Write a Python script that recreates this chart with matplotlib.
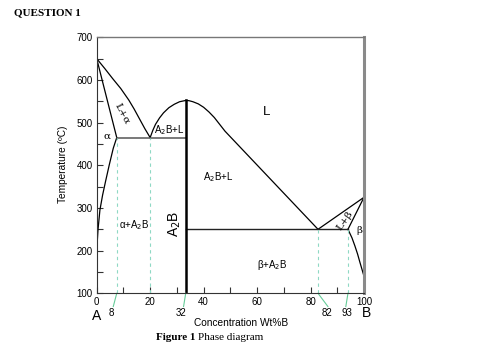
import matplotlib
matplotlib.use('Agg')
import matplotlib.pyplot as plt
import numpy as np

plt.rcParams['font.family'] = ['Liberation Sans', 'DejaVu Sans']

# phase boundaries (composition wt%B, temperature C)
liq_a_x = [0, 3, 6, 9, 12, 14, 16, 18, 20]
liq_a_t = [650, 627, 603, 580, 553, 532, 509, 486, 465]
sol_a_x = [0, 7.5]
sol_a_t = [650, 465]
solv_a_x = [7.5, 6.2, 4.7, 3.3, 2.2, 1.2, 0.5, 0]
solv_a_t = [465, 440, 401, 362, 330, 295, 250, 200]
dome_x = [20, 21, 22, 23.5, 25, 27, 29, 31, 33.3]
dome_t = [465, 482, 496, 511, 523, 535, 543, 549, 552]
liq_r_x = [33.3, 34.5, 36, 38, 40, 42, 44, 46, 48, 82.8]
liq_r_t = [552, 551.5, 549, 544, 536, 525, 512, 496, 480, 250]
liq_b_x = [82.8, 100]
liq_b_t = [250, 325]
sol_b_x = [94, 100]
sol_b_t = [250, 325]
solv_b_x = [94, 95.5, 96.6, 97.6, 98.5, 99.3, 100]
solv_b_t = [250, 230, 211, 192, 172, 155, 140]
eut1_x = [7.5, 33.3]
eut1_t = [465, 465]
eut2_x = [33.3, 94]
eut2_t = [250, 250]
compound_x = 33.3
compound_top = 552

# dashed guides and the labels under the axis
guide_x = [7.5, 20, 82.8, 94]
guide_top = [465, 465, 250, 250]
conn_from = [7.5, 33.3, 82.8, 94]
conn_to = [6.2, 32.5, 86.5, 93.2]
conn_labels = ['8', '32', '82', '93']
conn_label_x = [5.4, 31.4, 86, 93.5]

fig = plt.figure(figsize=(4.78, 3.55), dpi=100)
ax = fig.add_axes([0.2023, 0.1738, 0.5592, 0.7211])

lw = 0.9
for xs, ts in [(liq_a_x, liq_a_t), (sol_a_x, sol_a_t), (solv_a_x, solv_a_t),
               (dome_x, dome_t), (liq_r_x, liq_r_t), (liq_b_x, liq_b_t),
               (sol_b_x, sol_b_t), (solv_b_x, solv_b_t)]:
    ax.plot(xs, ts, color='black', lw=lw)
ax.plot(eut1_x, eut1_t, color='#555555', lw=1.1)
ax.plot(eut2_x, eut2_t, color='#222222', lw=1.0)
ax.plot([compound_x, compound_x], [100, compound_top], color='black', lw=1.8)

guide_col = '#8fd9c4'
for gx, gt in zip(guide_x, guide_top):
    ax.plot([gx, gx], [100, gt], color=guide_col, lw=0.8, ls=(0, (3, 3)))
for cf, ct, lab, lx in zip(conn_from, conn_to, conn_labels, conn_label_x):
    ax.plot([cf, ct], [100, 69], color='#66cc99', lw=0.8, clip_on=False)
    ax.text(lx, 55, lab, ha='center', va='center', fontsize=7, clip_on=False)

ax.text(0, 46, 'A', ha='center', va='center', fontsize=10, clip_on=False)
ax.text(101, 53, 'B', ha='center', va='center', fontsize=10, clip_on=False)

# region labels
ax.text(63.6, 526, 'L', ha='center', va='center', fontsize=9.5)
ax.text(9.6, 520, 'L+\u03b1', ha='center', va='center', fontsize=7.5, rotation=-62,
        family='DejaVu Serif')
ax.text(3.7, 467, '\u03b1', ha='center', va='center', fontsize=7.5, family='DejaVu Serif')
ax.text(27, 483, 'A$_2$B+L', ha='center', va='center', fontsize=7)
ax.text(45.5, 373, 'A$_2$B+L', ha='center', va='center', fontsize=7)
ax.text(29.3, 262, 'A$_2$B', ha='center', va='center', fontsize=10, rotation=90)
ax.text(14, 259, '\u03b1+A$_2$B', ha='center', va='center', fontsize=7)
ax.text(65.6, 166, '\u03b2+A$_2$B', ha='center', va='center', fontsize=7)
ax.text(92.8, 270, 'L+\u03b2', ha='center', va='center', fontsize=7.5, rotation=55,
        family='DejaVu Serif')
ax.text(98.3, 247, '\u03b2', ha='center', va='center', fontsize=7.5, family='DejaVu Serif')

ax.set_xlim(0, 100)
ax.set_ylim(100, 700)
ax.set_xticks(np.arange(0, 101, 20))
ax.set_xticks(np.arange(0, 101, 10), minor=True)
ax.set_yticks(np.arange(100, 701, 100))
ax.set_yticks(np.arange(100, 701, 50), minor=True)
ax.tick_params(which='both', direction='in', length=4, width=0.8, color='#333333',
               labelsize=7, pad=3)
ax.tick_params(axis='x', which='both', top=False)
ax.tick_params(axis='y', which='both', right=False)

ax.spines['left'].set_color('#333333')
ax.spines['bottom'].set_color('#333333')
ax.spines['top'].set_color('#777777')
ax.spines['top'].set_linewidth(1.0)
ax.spines['right'].set_color('#8a8a8a')
ax.spines['right'].set_linewidth(2.2)

fig.text(0.131, 0.538, 'Temperature (\u00baC)', rotation=90, ha='center', va='center',
         fontsize=7.3)
fig.text(0.505, 0.09, 'Concentration Wt%B', ha='center', va='center', fontsize=7.3)
fig.text(0.408, 0.05, 'Figure 1', ha='right', va='center', fontsize=8,
         family='Liberation Serif', weight='bold')
fig.text(0.415, 0.05, 'Phase diagram', ha='left', va='center', fontsize=8,
         family='Liberation Serif')
fig.text(0.029, 0.965, 'QUESTION 1', ha='left', va='center', fontsize=8,
         family='Liberation Serif', weight='bold')

fig.savefig('out.png', dpi=100)
